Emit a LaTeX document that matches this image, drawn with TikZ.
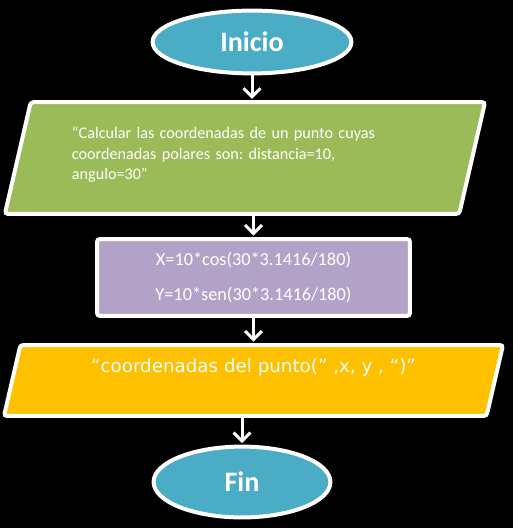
\documentclass[tikz,border=0pt]{standalone}
\usepackage{fontspec}
\setmainfont{Carlito}
\newfontfamily\verdfont{DejaVu Sans}
\usepackage{tikz}
\usetikzlibrary{arrows.meta,shapes.geometric}

\definecolor{tealfill}{HTML}{4BACC6}
\definecolor{greenfill}{HTML}{9BBB59}
\definecolor{lilacfill}{HTML}{B3A2C7}
\definecolor{goldfill}{HTML}{FFC000}

\frenchspacing

\begin{document}
\begin{tikzpicture}[x=0.025cm, y=-0.025cm,
		every node/.style={draw=white, line width=0.1cm, text=white, inner sep=0pt},
		terminal/.style={ellipse, fill=tealfill, font=\fontsize{20}{24}\selectfont\bfseries},
		io/.style={trapezium, trapezium left angle=77, trapezium right angle=103,
			trapezium stretches body, rounded corners=2pt},
		proc/.style={rectangle, rounded corners=2pt, fill=lilacfill},
		post/.style={-{Straight Barb[length=6pt,width=12pt]}, draw=white, line width=0.075cm, shorten >=1pt}]

	\fill[black] (0,0) rectangle (513,528);

	\node [terminal, minimum width=4.97cm, minimum height=1.57cm] (Ini) at (252,42) {Inicio};

	\node [io, fill=greenfill, minimum width=12cm, text height=0.92cm, text depth=1.87cm,
		text width=8.65cm, align=left, font=\fontsize{11.5}{14.5}\selectfont] (Dat) at (245,158)
		{“Calcular las coordenadas de un punto cuyas\\ coordenadas polares son: distancia=10,\\ angulo=30”};

	\node [proc, minimum width=7.82cm, minimum height=1.92cm,
		align=center, font=\fontsize{13}{15}\selectfont] (Calc) at (253.5,277.5)
		{X=10*cos(30*3.1416/180)\\[10pt] Y=10*sen(30*3.1416/180)};

	\node [io, fill=goldfill, minimum width=12.47cm,
		text height=0.675cm, text depth=1.095cm, font=\verdfont\fontsize{13}{15}\selectfont] (Out) at (253.5,380.5)
		{“coordenadas del punto(” ,x, y , “)”};

	\node [terminal, minimum width=4.42cm, minimum height=1.77cm] (Fin) at (242,482) {Fin};

	\draw[post] (Ini.south) -- (Ini.south |- Dat.north);
	\draw[post] (Calc.north |- Dat.south) -- (Calc.north);
	\draw[post] (Calc.south) -- (Calc.south |- Out.north);
	\draw[post] (Fin.north |- Out.south) -- (Fin.north);

\end{tikzpicture}
\end{document}
